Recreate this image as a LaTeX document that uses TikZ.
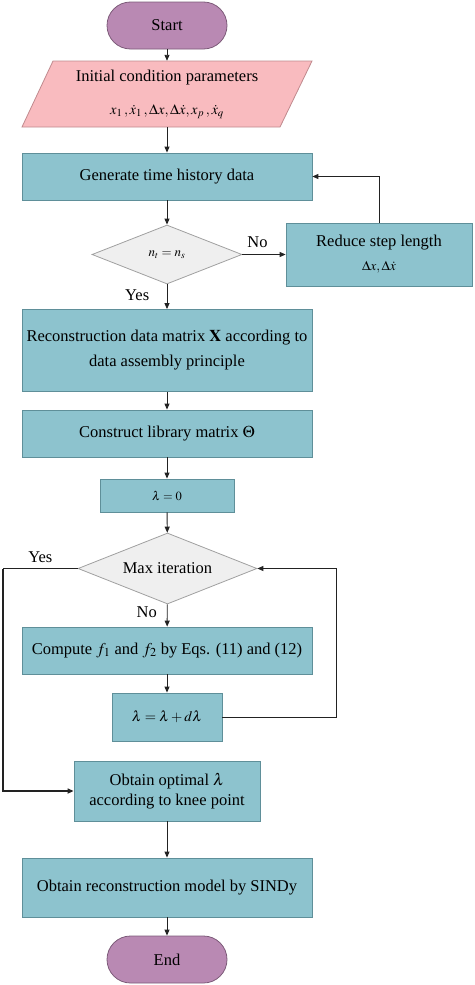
\documentclass[tikz,border=0pt]{standalone}
\usepackage{mathptmx}
\usepackage{fontspec}
\setmainfont{Liberation Serif}
\usetikzlibrary{arrows.meta,shapes.geometric}
\definecolor{tealfill}{HTML}{8DC3CE}
\definecolor{tealline}{HTML}{5F8F99}
\definecolor{purpfill}{HTML}{B989B3}
\definecolor{purpline}{HTML}{7D5B79}
\definecolor{pinkfill}{HTML}{F9BBBF}
\definecolor{pinkline}{HTML}{C08A8E}
\definecolor{diafill}{HTML}{EFEFEF}
\definecolor{dialine}{HTML}{A0A0A0}
\definecolor{conn}{HTML}{222222}
\begin{document}
\begin{tikzpicture}[x=1pt,y=-1pt,
  font=\fontsize{16.5}{20}\selectfont,
  proc/.style={draw=tealline, fill=tealfill, line width=0.8pt, inner sep=0pt, align=center},
  term/.style={draw=purpline, fill=purpfill, line width=0.8pt, rounded corners=23.5pt, minimum width=120pt, minimum height=47pt, inner sep=0pt},
  decis/.style={diamond, aspect=2.5, draw=dialine, fill=diafill, line width=0.8pt, inner sep=0pt, align=center},
  arr/.style={draw=conn, line width=0.9pt, -{Triangle[length=6pt,width=5pt]}},
  ln/.style={draw=conn, line width=0.9pt}
]
\useasboundingbox (0,0) rectangle (474,985);

% start
\node[term] (start) at (167,25.5) {Start};

% parallelogram input
\draw[draw=pinkline, fill=pinkfill, line width=0.8pt] (53,61) -- (312,61) -- (280,127) -- (22,127) -- cycle;
\node[minimum width=259pt, minimum height=66pt, inner sep=0pt, align=center] (init) at (167,94)
  {Initial condition parameters\\[13pt] {\fontsize{14.5}{16}\selectfont $x_1\,,\dot{x}_1\,,\Delta x,\Delta\dot{x},x_p\,,\dot{x}_q$}};

\node[proc, minimum width=290pt, minimum height=47pt] (gen) at (167,176.5) {Generate time history data};

\node[decis, minimum width=150pt, minimum height=59pt] (d1) at (167,254.5) {\fontsize{13}{15}\selectfont $n_t=n_s$};

\node[proc, minimum width=186pt, minimum height=63pt] (red) at (379,254.5)
  {Reduce step length\\[4pt] {\fontsize{13.5}{15}\selectfont $\Delta x,\Delta\dot{x}$}};

\node[proc, minimum width=290pt, minimum height=82pt, font=\fontsize{16.5}{25}\selectfont] (rec) at (167,350.5)
  {Reconstruction data matrix $\mathbf{X}$ according to\\data assembly principle};

\node[proc, minimum width=290pt, minimum height=47pt] (con) at (167,433.5) {Construct library matrix $\Theta$};

\node[proc, minimum width=134pt, minimum height=33pt] (lam0) at (167,495.5) {\fontsize{12.5}{15}\selectfont $\lambda=0$};

\node[decis, minimum width=179pt, minimum height=71pt] (d2) at (167.5,568.5) {Max iteration};

\node[proc, minimum width=290pt, minimum height=47pt] (comp) at (167,650.5)
  {Compute $f_1$ and $f_2$ by Eqs. (11) and (12)};

\node[proc, minimum width=110pt, minimum height=48pt] (lamd) at (167,717) {\fontsize{14.5}{16}\selectfont $\lambda=\lambda+d\lambda$};

\node[proc, minimum width=186pt, minimum height=60pt] (obt) at (167,791)
  {Obtain optimal $\lambda$\\according to knee point};

\node[proc, minimum width=290pt, minimum height=59pt] (sindy) at (167,887.5) {Obtain reconstruction model by SINDy};

\node[term] (end) at (167,959.5) {End};

% connectors
\coordinate (yl) at (3,568.5);
\coordinate (rl) at (336,717);

\draw[arr] (start) -- (init);
\draw[arr] (init) -- (gen);
\draw[arr] (gen) -- (d1);
\draw[arr] (d1) -- node[above=3pt, pos=0.35] {No} (red);
\draw[arr] (red.north) |- (gen.east);
\draw[arr] (d1) -- node[pos=0.45, left=14pt] {Yes} (rec);
\draw[arr] (rec) -- (con);
\draw[arr] (con) -- (lam0);
\draw[arr] (lam0) -- (d2);
\draw[arr] (d2) -- node[pos=0, anchor=north east, inner sep=1pt, xshift=-9pt, yshift=-1pt] {No} (comp);
\draw[arr] (comp) -- (lamd);
\draw[arr] (lamd.east) -- (rl) |- (d2.east);
\draw[ln, line width=1.6pt] (d2.west) -- node[above=2pt] {Yes} (yl);
\draw[arr, line width=1.6pt] (yl) |- (obt.west);
\draw[arr] (obt) -- (sindy);
\draw[arr] (sindy) -- (end);
\end{tikzpicture}
\end{document}
